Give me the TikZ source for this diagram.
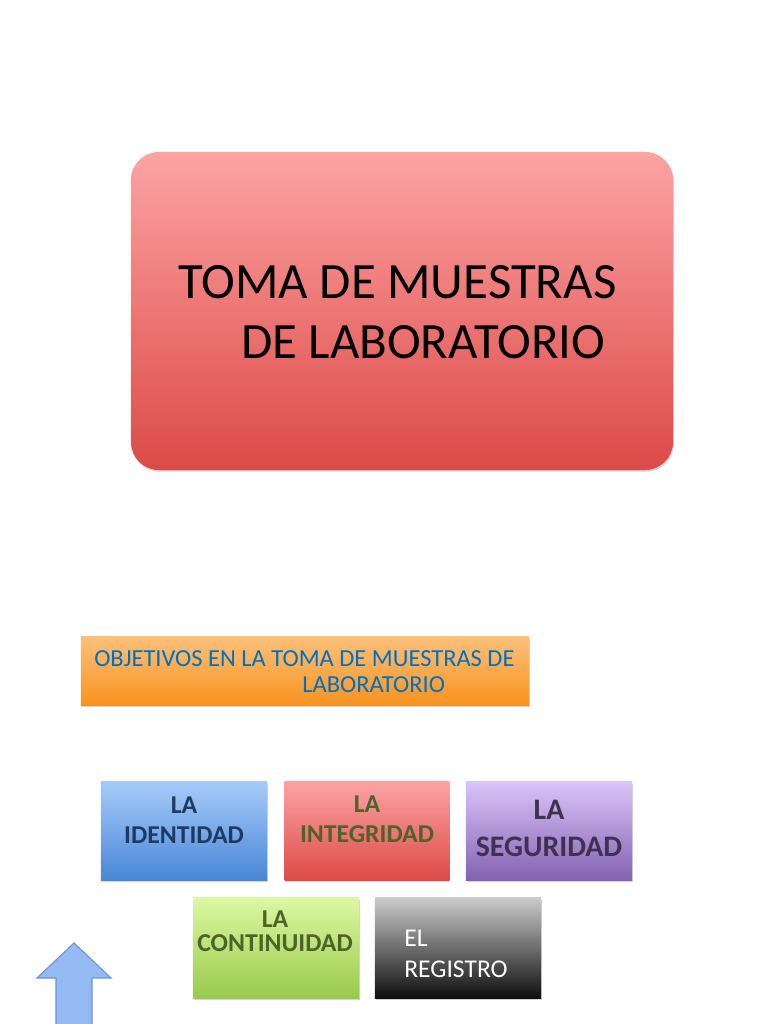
\documentclass[tikz,border=0pt]{standalone}
\usepackage{fontspec}
\setmainfont{Carlito}
\usetikzlibrary{shadows}

\definecolor{redTop}{HTML}{FCA3A3}
\definecolor{redBot}{HTML}{DC4A47}
\definecolor{orTop}{HTML}{FCC07A}
\definecolor{orBot}{HTML}{F7931F}
\definecolor{blTop}{HTML}{A6CBFA}
\definecolor{blBot}{HTML}{4986D6}
\definecolor{puTop}{HTML}{DAC4F8}
\definecolor{puBot}{HTML}{8262B2}
\definecolor{grTop}{HTML}{DDF7A2}
\definecolor{grBot}{HTML}{99CA4C}
\definecolor{gyTop}{HTML}{CBCBCB}
\definecolor{gyBot}{HTML}{0E0E0E}
\definecolor{arrFill}{HTML}{94B9F3}
\definecolor{arrLine}{HTML}{6D94D6}
\definecolor{objBlue}{HTML}{0070C0}
\definecolor{navy}{HTML}{1F3A60}
\definecolor{olive}{HTML}{4F6228}
\definecolor{plum}{HTML}{3F3151}

\begin{document}
\begin{tikzpicture}[x=0.025cm,y=-0.025cm]
  \useasboundingbox (0,0) rectangle (768,1024);

  % boxes
  \begin{scope}[every node/.style={inner sep=0pt,
      drop shadow={opacity=.35,shadow xshift=.6pt,shadow yshift=-1.2pt}}]
    \node[rounded corners=.7cm,top color=redTop,bottom color=redBot,
      minimum width=13.55cm,minimum height=7.95cm] (toma) at (402,311) {};
    \node[top color=orTop,bottom color=orBot,
      minimum width=11.2cm,minimum height=1.7cm] (obj) at (305,671) {};
    \node[top color=blTop,bottom color=blBot,
      minimum width=4.15cm,minimum height=2.45cm] (ident) at (184,831) {};
    \node[top color=redTop,bottom color=redBot,
      minimum width=4.12cm,minimum height=2.45cm] (integ) at (367,831) {};
    \node[top color=puTop,bottom color=puBot,
      minimum width=4.15cm,minimum height=2.45cm] (segur) at (549,831) {};
    \node[top color=grTop,bottom color=grBot,
      minimum width=4.15cm,minimum height=2.5cm] (contin) at (276,948) {};
    \node[top color=gyTop,bottom color=gyBot,
      minimum width=4.15cm,minimum height=2.5cm] (regis) at (458,948) {};
  \end{scope}

  % texts
  \begin{scope}[every node/.style={inner sep=0pt}]
    \node[anchor=north west,align=left,font=\fontsize{36.2}{43}\selectfont]
      (tomaT) at (178,265) {TOMA DE MUESTRAS\\\hspace*{44.6pt}DE LABORATORIO};
    \node[anchor=north west,align=left,text=objBlue,
      font=\fontsize{17.4}{18.6}\selectfont]
      (objT) at (94,650) {OBJETIVOS EN LA TOMA DE MUESTRAS DE\\\hspace*{148pt}LABORATORIO};
    \node[anchor=north,align=center,text=navy,
      font=\bfseries\fontsize{18.3}{20.8}\selectfont]
      (identT) at (184,797) {LA\\IDENTIDAD};
    \node[anchor=north,align=center,text=olive,
      font=\bfseries\fontsize{18.3}{20.8}\selectfont]
      (integT) at (367,796) {LA\\INTEGRIDAD};
    \node[anchor=north,align=center,text=plum,
      font=\bfseries\fontsize{21.2}{26}\selectfont]
      (segurT) at (549,800) {LA\\SEGURIDAD};
    \node[anchor=north,align=center,text=olive,
      font=\bfseries\fontsize{18.3}{17}\selectfont]
      (continT) at (275,911) {LA\\CONTINUIDAD};
    \node[anchor=north west,align=left,text=white,
      font=\fontsize{18.2}{22}\selectfont]
      (regisT) at (404,930) {EL\\REGISTRO};
  \end{scope}

  % arrow
  \draw[arrLine,fill=arrFill,line width=.8pt]
    (74,943) -- (111,978) -- (92,978) -- (92,1030)
    -- (56,1030) -- (56,978) -- (37,978) -- cycle;
\end{tikzpicture}
\end{document}
